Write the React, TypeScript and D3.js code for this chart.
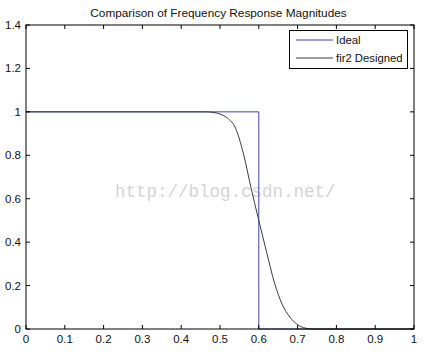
import React from "react";
import * as d3 from "d3";

const title = "Comparison of Frequency Response Magnitudes";
const xTicks = [0, 0.1, 0.2, 0.3, 0.4, 0.5, 0.6, 0.7, 0.8, 0.9, 1];
const yTicks = [0, 0.2, 0.4, 0.6, 0.8, 1, 1.2, 1.4];
const idealFreq = [0, 0.6, 0.6, 1];
const idealMag = [1, 1, 0, 0];
const firFreq = [0, 0.46, 0.48, 0.5, 0.52, 0.54, 0.56, 0.58, 0.6, 0.62, 0.64, 0.66, 0.68, 0.7, 0.72, 0.74, 1];
const firMag = [1, 1, 0.998, 0.99, 0.97, 0.925, 0.81, 0.65, 0.5, 0.355, 0.215, 0.115, 0.055, 0.02, 0.004, 0, 0];
const legendLabels = ["Ideal", "fir2 Designed"];
const watermark = "http://blog.csdn.net/";

const W = 444, H = 361;
const L = 26, R = 414, T = 25, B = 329;

export default function App() {
  const x = d3.scaleLinear().domain([0, 1]).range([L, R]);
  const y = d3.scaleLinear().domain([0, 1.4]).range([B, T]);
  const line = d3.line<[number, number]>().x(d => x(d[0])).y(d => y(d[1]));
  const ideal = line(idealFreq.map((f, i) => [f, idealMag[i]] as [number, number]))!;
  const fir = d3.line<[number, number]>().x(d => x(d[0])).y(d => y(d[1])).curve(d3.curveMonotoneX)(
    firFreq.map((f, i) => [f, firMag[i]] as [number, number])
  )!;
  const font = "'Liberation Sans', Arial, sans-serif";
  const colors = ["#3a44a8", "#3a3a3a"];
  return (
    <svg width={W} height={H} style={{ position: "absolute", left: 0, top: 0, background: "#fff" }}>
      <rect x={0} y={0} width={W} height={H} fill="#fff" />
      <text x={218.5} y={17} textAnchor="middle" fontFamily={font} fontSize={11.8} fill="#111">{title}</text>
      <text x={115} y={197} fontFamily="'Liberation Mono', 'Courier New', monospace" fontSize={17.5} fill="#d4d4d4">{watermark}</text>
      <path d={ideal} fill="none" stroke={colors[0]} strokeWidth={1} />
      <path d={fir} fill="none" stroke={colors[1]} strokeWidth={1} />
      <rect x={L} y={T} width={R - L} height={B - T} fill="none" stroke="#000" strokeWidth={1} />
      {xTicks.map(t => (
        <g key={"x" + t}>
          <line x1={x(t)} x2={x(t)} y1={B} y2={B - 4} stroke="#000" />
          <line x1={x(t)} x2={x(t)} y1={T} y2={T + 4} stroke="#000" />
          <text x={x(t)} y={343} textAnchor="middle" fontFamily={font} fontSize={11.5} fill="#111">{String(t)}</text>
        </g>
      ))}
      {yTicks.map(t => (
        <g key={"y" + t}>
          <line x1={L} x2={L + 4} y1={y(t)} y2={y(t)} stroke="#000" />
          <line x1={R} x2={R - 4} y1={y(t)} y2={y(t)} stroke="#000" />
          <text x={21} y={y(t) + 4} textAnchor="end" fontFamily={font} fontSize={11.5} fill="#111">{String(t)}</text>
        </g>
      ))}
      <rect x={289.5} y={30.5} width={118} height={38} fill="#fff" stroke="#000" strokeWidth={1} />
      {legendLabels.map((lab, i) => (
        <g key={lab}>
          <line x1={296} x2={333} y1={40 + i * 18} y2={40 + i * 18} stroke={colors[i]} />
          <text x={336} y={44 + i * 18} fontFamily={font} fontSize={11.3} fill="#111">{lab}</text>
        </g>
      ))}
    </svg>
  );
}
